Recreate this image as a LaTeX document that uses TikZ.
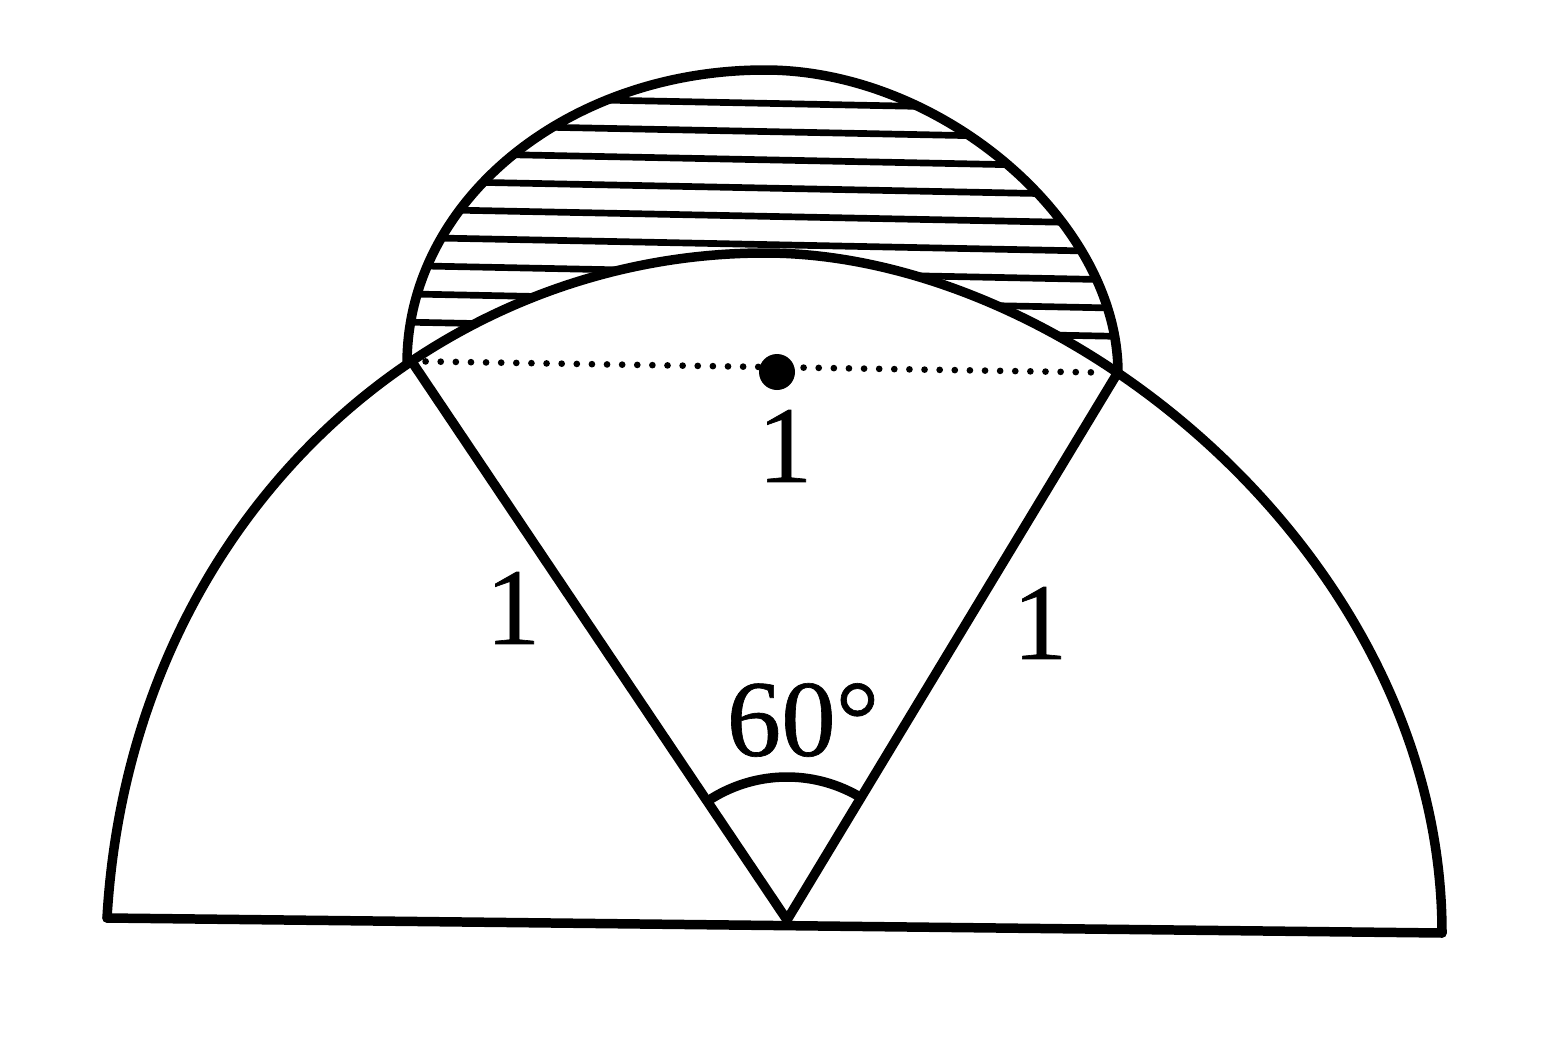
\documentclass[tikz,border=0pt]{standalone}
\usepackage{fontspec}
\setmainfont{Liberation Serif}
\newfontfamily\lblfont[FakeBold=0.6]{Liberation Serif}
\begin{document}
\begin{tikzpicture}[x=0.01cm,y=-0.01cm,
  ln/.style={line width=2.7pt,line join=round,line cap=round},
  hatch/.style={line width=1.9pt},
  lbl/.style={inner sep=0pt,font=\lblfont\fontsize{31}{31}\selectfont}]
\useasboundingbox (0,0) rectangle (1548,1048);
\coordinate (BL) at (107,918);
\coordinate (BR) at (1442,933);
\coordinate (T) at (765,253);
\coordinate (A) at (787,920);
\coordinate (ST) at (765,70);
\coordinate (SL) at (407,364);
\coordinate (SR) at (1118,373);
\coordinate (O) at (777,372);
\path (BL) .. controls (130,520) and (430,253) .. (T) coordinate[pos=0.62] (L);
\path (T) .. controls (1070,253) and (1442,560) .. (BR) coordinate[pos=0.38] (R);
\def\bigarc{(BL) .. controls (130,520) and (430,253) .. (T) .. controls (1070,253) and (1442,560) .. (BR)}
\def\smallarc{(SL) .. controls (407,201) and (567,70) .. (ST) .. controls (941,70) and (1118,221) .. (SR)}
\begin{scope}
  \clip \smallarc -- cycle;
  \foreach \i in {0,...,8}
    \draw[hatch] (380,{95.6+28.25*\i}) -- (1150,{111+28.25*\i});
  \fill[white] \bigarc -- cycle;
\end{scope}
\draw[ln] \smallarc;
\draw[ln] \bigarc;
\draw[ln] (BL) -- (BR);
\draw[ln] (L) -- (A) -- (R);
\draw[line width=1.9pt,dash pattern=on 0pt off 4.3pt,line cap=round,shorten <=4pt,shorten >=4pt] (L) -- (R);
\fill (O) circle[radius=18];
\draw[ln] (A) ++(-122:143) arc[start angle=-122,end angle=-60,radius=143];
\node[lbl] (top1) at (785,446) {1};
\node[lbl] (left1) at (513,608) {1};
\node[lbl] (right1) at (1040,623) {1};
\node[lbl] (ang) at (803,720) {60°};
\end{tikzpicture}
\end{document}
